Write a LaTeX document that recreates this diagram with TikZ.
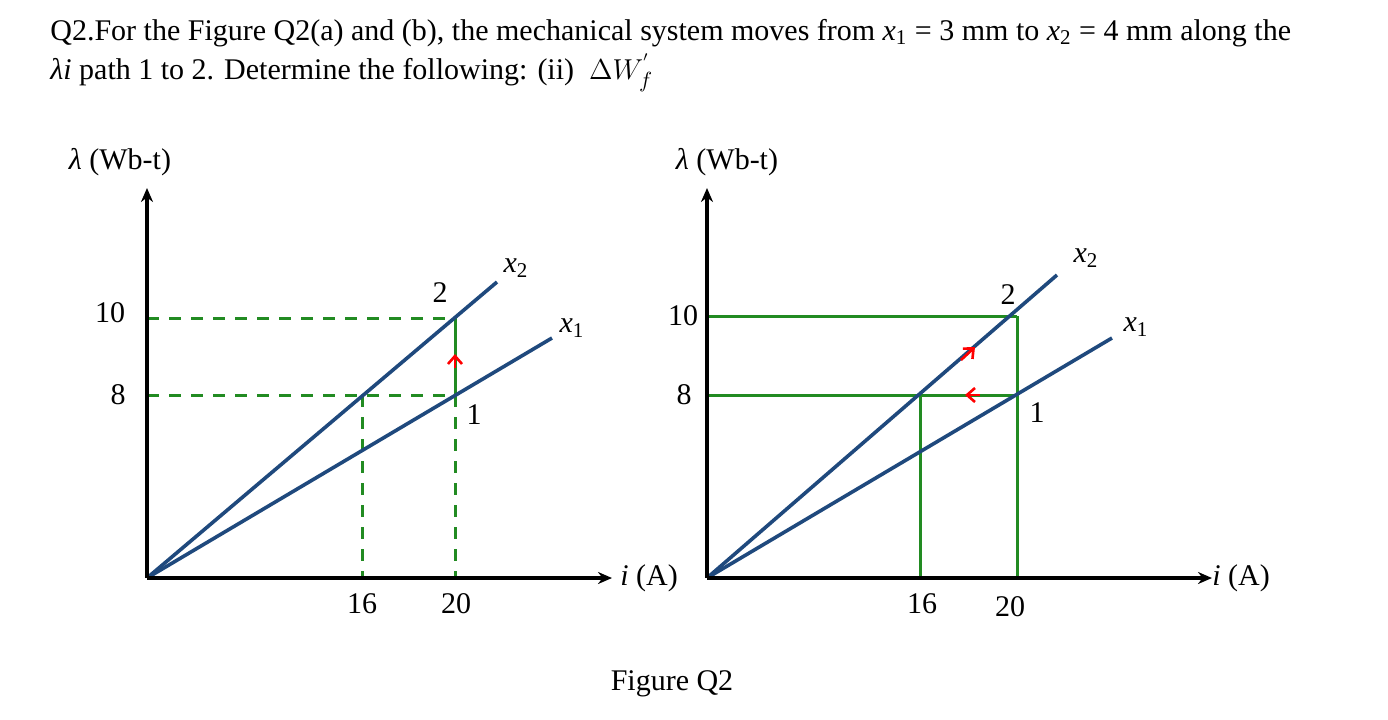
\documentclass[tikz,border=0pt]{standalone}
\usepackage{fontspec}
\setmainfont{Liberation Serif}
\usetikzlibrary{arrows.meta}
\definecolor{lblue}{RGB}{31,73,125}
\definecolor{lgreen}{RGB}{34,139,34}
\tikzset{
 ax/.style={line width=1.6pt,-{Stealth[length=7pt,width=6pt]}},
 bl/.style={lblue,line width=1.8pt},
 gd/.style={lgreen,line width=1.5pt,dash pattern=on 6pt off 5pt},
 gs/.style={lgreen,line width=1.5pt},
 ra/.style={red,line width=1.3pt,-{Straight Barb[length=4pt,width=7pt]}},
 t/.style={font=\fontsize{15}{17}\selectfont,inner sep=0pt},
 s/.style={font=\fontsize{15}{17}\selectfont,inner sep=0pt}
}
\begin{document}
\begin{tikzpicture}[x=0.5pt,y=-0.5pt]
\useasboundingbox (0,0) rectangle (1388,719);
\node[t,anchor=west] (l1) at (50,33) {Q2.For the Figure Q2(a) and (b), the mechanical system moves from \textit{x}\textsubscript{1} = 3 mm to \textit{x}\textsubscript{2} = 4 mm along the};
\node[t,anchor=west] (l2) at (50,73) {\textit{λi} path 1 to 2. Determine the following: (ii) \ $\Delta W_f^{'}$};
% left
\coordinate (oa) at (147,578);
\node[s] (ya) at (120,162) {\textit{λ} (Wb-t)};
\node[s,anchor=west] (xa) at (620,578) {\textit{i} (A)};
\coordinate (yea) at (147,188);
\coordinate (xea) at (612,578);
\coordinate (x2a) at (497,282);
\coordinate (x1a) at (552,338);
\coordinate (p2a) at (455,318);
\coordinate (p1a) at (455,395);
\draw[gd] (147,318) -- (p2a);
\draw[gd] (147,395) -- (p1a);
\draw[gd] (362,395) -- (362,578);
\draw[gd] (p1a) -- (455,578);
\draw[gs] (p1a) -- (p2a);
\draw[bl] (oa) -- (x2a);
\draw[bl] (oa) -- (x1a);
\draw[ax] (oa) -- (yea);
\draw[ax] (oa) -- (xea);
\draw[ra] (455,368) -- (455,354);
\node[s] (a10) at (110,313) {10};
\node[s] (a8) at (118,395) {8};
\node[s] (a2) at (440,293) {2};
\node[s] (a1) at (474,415) {1};
\node[s] (ax2) at (516,268) {\textit{x}\textsubscript{2}};
\node[s] (ax1) at (572,328) {\textit{x}\textsubscript{1}};
\node[s] (a16) at (362,604) {16};
\node[s] (a20) at (456,604) {20};
% right
\coordinate (ob) at (707,578);
\node[s] (yb) at (727,162) {\textit{λ} (Wb-t)};
\node[s,anchor=west] (xb) at (1212,578) {\textit{i} (A)};
\coordinate (yeb) at (707,188);
\coordinate (xeb) at (1212,578);
\coordinate (x2b) at (1057,275);
\coordinate (x1b) at (1112,338);
\coordinate (p2b) at (1017,316);
\coordinate (p1b) at (1017,395);
\coordinate (qb) at (920,395);
\draw[gs] (707,316) -- (p2b);
\draw[gs] (707,395) -- (p1b);
\draw[gs] (qb) -- (920,578);
\draw[gs] (p2b) -- (1017,578);
\draw[bl] (ob) -- (x2b);
\draw[bl] (ob) -- (x1b);
\draw[ax] (ob) -- (yeb);
\draw[ax] (ob) -- (xeb);
\draw[ra] (961,360) -- (975,347);
\draw[ra] (980,395) -- (965,395);
\node[s] (b10) at (683,316) {10};
\node[s] (b8) at (684,395) {8};
\node[s] (b2) at (1008,295) {2};
\node[s] (b1) at (1037,413) {1};
\node[s] (bx2) at (1086,258) {\textit{x}\textsubscript{2}};
\node[s] (bx1) at (1136,327) {\textit{x}\textsubscript{1}};
\node[s] (b16) at (922,604) {16};
\node[s] (b20) at (1010,607) {20};
\node[s] (cap) at (672,684) {Figure Q2};
\end{tikzpicture}
\end{document}
